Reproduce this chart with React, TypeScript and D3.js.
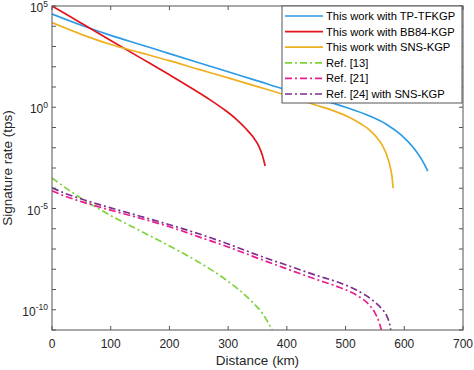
import React from "react";
import * as d3 from "d3";

// Distance (km) and log10 of signature rate (tps)
const blueD = [0, 50, 100, 150, 200, 250, 300, 350, 400, 450, 500, 540, 570, 595, 615, 630, 640];
const blueE = [4.6, 4.05, 3.55, 3.1, 2.65, 2.2, 1.75, 1.3, 0.85, 0.45, 0.0, -0.42, -0.85, -1.38, -1.98, -2.6, -3.15];

const redD = [0, 50, 100, 150, 200, 240, 270, 295, 315, 330, 342, 351, 358, 363];
const redE = [5, 4.15, 3.3, 2.45, 1.6, 0.9, 0.35, -0.15, -0.62, -1.05, -1.45, -1.85, -2.35, -2.9];

const orangeD = [0, 50, 100, 150, 200, 250, 300, 350, 400, 450, 480, 505, 525, 540, 552, 562, 570, 576, 579, 581];
const orangeE = [4.18, 3.6, 3.1, 2.7, 2.3, 1.87, 1.45, 1.02, 0.58, 0.1, -0.18, -0.48, -0.8, -1.1, -1.45, -1.85, -2.35, -2.95, -3.4, -4.0];

const greenD = [0, 25, 50, 100, 150, 200, 250, 300, 337, 360, 375];
const greenE = [-3.49, -4.02, -4.5, -5.35, -6.1, -6.85, -7.65, -8.6, -9.5, -10.25, -11];

const pinkD = [0, 25, 50, 100, 150, 200, 250, 300, 350, 400, 450, 490, 520, 540, 550, 557, 561];
const pinkE = [-4.13, -4.42, -4.66, -5.08, -5.48, -5.9, -6.4, -6.9, -7.45, -7.98, -8.5, -8.9, -9.3, -9.75, -10.15, -10.6, -11];

const purpleD = [0, 25, 50, 100, 150, 200, 250, 300, 350, 400, 450, 490, 520, 547, 560, 570, 575, 577];
const purpleE = [-3.98, -4.28, -4.53, -4.97, -5.38, -5.8, -6.25, -6.75, -7.3, -7.8, -8.3, -8.67, -9.05, -9.55, -9.9, -10.3, -10.7, -11];

const seriesNames = [
  "This work with TP-TFKGP",
  "This work with BB84-KGP",
  "This work with SNS-KGP",
  "Ref. [13]",
  "Ref. [21]",
  "Ref. [24] with SNS-KGP",
];

const xTicks = [0, 100, 200, 300, 400, 500, 600, 700];
const yLabelExps = [5, 0, -5, -10];
const yTickExps = d3.range(-11, 6);

export default function App() {
  const W = 474, H = 370;
  const L = 52, R = 463, T = 6, B = 330;
  const x = d3.scaleLinear().domain([0, 700]).range([L, R]);
  const y = d3.scaleLog().domain([1e-11, 1e5]).range([B, T]);

  const series = [
    { d: blueD, e: blueE, color: "#2a9be6", dash: "" },
    { d: redD, e: redE, color: "#e2141c", dash: "" },
    { d: orangeD, e: orangeE, color: "#edb120", dash: "" },
    { d: greenD, e: greenE, color: "#7ed23a", dash: "7,3,2,3" },
    { d: pinkD, e: pinkE, color: "#eb1c8d", dash: "7,3,2,3" },
    { d: purpleD, e: purpleE, color: "#7e2f8e", dash: "7,3,2,3" },
  ];

  const line = d3
    .line<[number, number]>()
    .x((p) => x(p[0]))
    .y((p) => y(Math.pow(10, p[1])))
    .curve(d3.curveMonotoneX);

  const axisColor = "#555";
  const textColor = "#262626";
  const font = "Liberation Sans, Arial, Helvetica, sans-serif";
  const tl = 4;

  const legX = 282, legY = 6, legW = 180, legH = 97;
  const legRow = 15.6;

  return (
    <svg width={W} height={H} style={{ position: "absolute", left: 0, top: 0, background: "#fff" }} fontFamily={font}>
      <rect x={0} y={0} width={W} height={H} fill="#fff" />
      <defs>
        <clipPath id="plotclip">
          <rect x={L} y={T} width={R - L} height={B - T} />
        </clipPath>
      </defs>
      <g clipPath="url(#plotclip)">
        {series.map((s, i) => (
          <path
            key={i}
            d={line(s.d.map((v, j) => [v, s.e[j]] as [number, number])) || ""}
            fill="none"
            stroke={s.color}
            strokeWidth={1.7}
            strokeDasharray={s.dash}
          />
        ))}
      </g>
      {/* box */}
      <rect x={L} y={T} width={R - L} height={B - T} fill="none" stroke={axisColor} strokeWidth={1} />
      {/* x ticks */}
      {xTicks.map((t) => (
        <g key={"x" + t}>
          <line x1={x(t)} x2={x(t)} y1={B} y2={B - tl} stroke={axisColor} />
          <line x1={x(t)} x2={x(t)} y1={T} y2={T + tl} stroke={axisColor} />
          <text x={x(t)} y={348} textAnchor="middle" fontSize={12} fill={textColor}>
            {t}
          </text>
        </g>
      ))}
      {/* y ticks */}
      {yTickExps.map((e) => (
        <g key={"y" + e}>
          <line x1={L} x2={L + tl} y1={y(Math.pow(10, e))} y2={y(Math.pow(10, e))} stroke={axisColor} />
          <line x1={R} x2={R - tl} y1={y(Math.pow(10, e))} y2={y(Math.pow(10, e))} stroke={axisColor} />
        </g>
      ))}
      {yLabelExps.map((e) => (
        <text key={"yl" + e} x={48} y={y(Math.pow(10, e)) + 6.2} textAnchor="end" fontSize={12} fill={textColor}>
          10
          <tspan fontSize={8.5} dy={-5.5}>
            {e}
          </tspan>
        </text>
      ))}
      <text x={(L + R) / 2} y={365} textAnchor="middle" fontSize={13.5} fill={textColor}>
        Distance (km)
      </text>
      <text
        transform={`translate(12,${(T + B) / 2}) rotate(-90)`}
        textAnchor="middle"
        fontSize={13.5}
        fill={textColor}
      >
        Signature rate (tps)
      </text>
      {/* legend */}
      <rect x={legX} y={legY} width={legW} height={legH} fill="#fff" stroke={axisColor} strokeWidth={1} />
      {seriesNames.map((n, i) => {
        const cy = legY + 10 + i * legRow;
        const s = series[i];
        return (
          <g key={"lg" + i}>
            <line x1={285} x2={323} y1={cy} y2={cy} stroke={s.color} strokeWidth={1.7} strokeDasharray={s.dash} />
            <text x={326} y={cy + 4} fontSize={11.2} fill="#000">
              {n}
            </text>
          </g>
        );
      })}
    </svg>
  );
}
